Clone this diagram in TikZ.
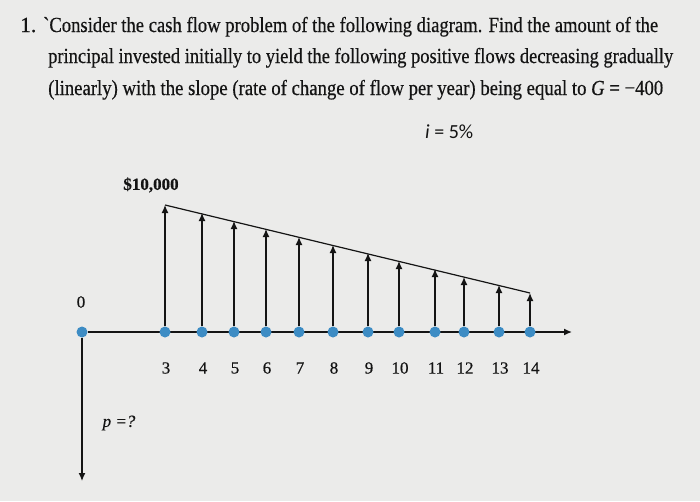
\documentclass[tikz,border=0pt]{standalone}
\usepackage{fontspec}
\usetikzlibrary{arrows.meta}
\setmainfont{Liberation Serif}
\newfontfamily\qfont[FakeBold=0.5]{Liberation Serif}
\newfontfamily\calibri{Carlito}
\definecolor{paper}{HTML}{EBEBEA}
\definecolor{dotblue}{HTML}{3D8CC4}
\definecolor{ink}{HTML}{141414}
% stretch a line of text to a given width, height kept
\newcommand{\fitline}[2]{\resizebox{#1}{\height}{#2}}
\begin{document}
\begin{tikzpicture}[x=1pt, y=-1pt, >={Latex[length=8pt,width=7pt]},
		dot/.style={circle, fill=dotblue, inner sep=0pt, minimum size=11pt},
		flow/.style={->, ink, line width=1.3pt},
		qline/.style={anchor=base west, inner sep=0pt, text=ink, font=\qfont\fontsize{21.5}{25}\selectfont},
		tick/.style={text=ink, inner sep=0pt, font=\qfont\fontsize{17}{20}\selectfont}]
		\fill[paper] (0,0) rectangle (700,501);
		% question text
		\node[qline] (num) at (20,32) {1.};
		\node[qline] (l1) at (43,32) {\fitline{615pt}{`Consider the cash flow problem of the following diagram. Find the amount of the}};
		\node[qline] (l2) at (48,63) {\fitline{625pt}{principal invested initially to yield the following positive flows decreasing gradually}};
		\node[qline] (l3) at (48,95) {\fitline{615pt}{(linearly) with the slope (rate of change of flow per year) being equal to \textit{G} = −400}};
		\node[anchor=base west, inner sep=0pt, text=ink, font=\calibri\fontsize{20}{24}\selectfont] (rate) at (425,138) {\textit{i} = 5\%};
		% time line
		\node[dot] (t0) at (82,332) {};
		\coordinate (axend) at (572,332);
		\coordinate (pend) at (82,481);
		\draw[->, ink, line width=1.4pt] (t0) -- (axend);
		\draw[->, ink, line width=1.3pt] (t0) -- (pend);
		\foreach \n/\x in {3/165,4/202,5/234,6/266,7/299,8/333,9/368,10/399,11/435,12/464,13/499,14/530}{
			\node[dot] (t\n) at (\x,332) {};
			\coordinate (c\n) at (\x,{205+8*(\n-3)});
			\draw[flow] (t\n) -- (c\n);
			\node[tick] (k\n) at (\x+1,368) {\n};
		}
		\draw[ink, line width=1.2pt] (c3) -- (c14);
		% labels
		\node[tick, font=\qfont\fontsize{17}{20}\selectfont\bfseries] (top) at (151,185) {\$10,000};
		\node[tick] (zero) at (81,302) {0};
		\node[tick, font=\qfont\fontsize{17}{20}\selectfont\itshape] (pval) at (119,423) {p =?};
	\end{tikzpicture}
\end{document}
